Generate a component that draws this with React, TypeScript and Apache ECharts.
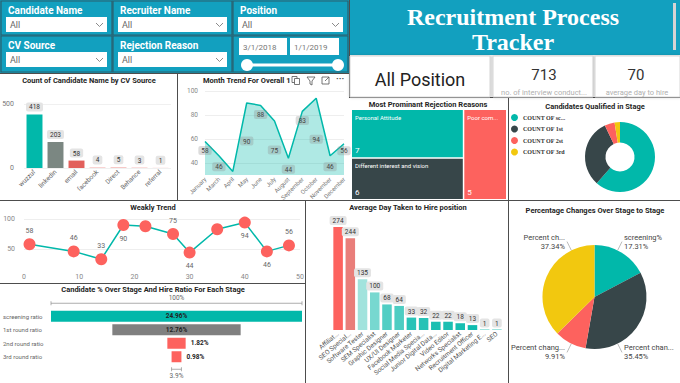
import React, { useEffect, useRef } from 'react';
import * as echarts from 'echarts';

// ---------------- data ----------------
const SLICER_LABELS = ['Candidate Name', 'Recruiter Name', 'Position', 'CV Source', 'Rejection Reason'];
const SLICER_VALUES = ['All', 'All', 'All', 'All', 'All'];
const DATE_RANGE = ['3/1/2018', '1/1/2019'];
const TITLE_LINES = ['Recruitment Process', 'Tracker'];
const POSITION_CARD = 'All Position';
const KPI_VALUES = [713, 70];
const KPI_LABELS = ['no. of interview conduct...', 'average day to hire'];

const CHART_TITLES = [
  'Count of Candidate Name by CV Source',
  'Month Trend For Overall 1',
  'Most Prominant Rejection Reasons',
  'Candidates Qualified in Stage',
  'Weakly Trend',
  'Candidate % Over Stage And Hire Ratio For Each Stage',
  'Average Day Taken to Hire position',
  'Percentage Changes Over Stage to Stage',
];

const CV_SOURCES = ['wuzzuf', 'linkedin', 'email', 'facebook', 'Direct', 'Behance', 'referral'];
const CV_COUNTS = [418, 203, 58, 4, 5, 3, 1];

const MONTHS = ['January', 'March', 'April', 'May', 'June', 'July', 'August', 'September', 'October', 'November', 'December'];
const MONTH_VALUES = [58, 46, 33, 90, 88, 75, 44, 83, 94, 46, 56];

const WEEKS = [1, 9, 14, 18, 22, 27, 30, 35, 40, 44, 48];
const WEEK_VALUES = [58, 46, 33, 90, 88, 75, 44, 83, 94, 46, 56];

const REJECTION_REASONS = ['Personal Attitude', 'Different interest and vision', 'Poor communication'];
const REJECTION_COUNTS = [7, 6, 5];

const STAGES = ['COUNT OF screening', 'COUNT OF 1st', 'COUNT OF 2st', 'COUNT OF 3rd'];
const STAGE_COUNTS = [173, 88, 13, 7];

const RATIO_STAGES = ['screening ratio', '1st round ratio', '2nd round ratio', '3rd round ratio'];
const RATIO_VALUES = [24.96, 12.76, 1.82, 0.98];

const POSITIONS = [
  'Affiliat...', 'SEO Special...', 'Software Tester', 'SEM Specialist', 'Graphic Designer',
  'UX/UI Designer', 'Facebook Marketer', 'Social Media Specia...', 'Junior Digital Data...',
  'Video Editor', 'Networks Specialist', 'Recruitment Officer', 'Digital Marketing E...', 'SEO',
];
const AVG_DAYS = [274, 244, 135, 100, 68, 64, 33, 32, 22, 22, 18, 13, 1, 1];

const CHANGE_NAMES = ['screening%', 'Percent chan...', 'Percent chang...', 'Percent ch...'];
const CHANGE_VALUES = [17.31, 35.45, 9.91, 37.34];

// ---------------- styles / layout ----------------
const FONT = 'Roboto, "Noto Sans", sans-serif';
const TEAL = '#01B8AA';
const DARK = '#374649';
const RED = '#FD625E';
const YELLOW = '#F2C80F';
const HEADER_BG = '#12a0bf';
const SLICER_BORDER = '#2a5f6e';
const CV_COLORS = [TEAL, '#7b8782', '#e2605c', '#f3a9a7', '#f3a9a7', '#f3a9a7', '#f3a9a7'];
const TREEMAP_COLORS = [TEAL, DARK, RED];
const STAGE_COLORS = [TEAL, DARK, RED, YELLOW];
const FUNNEL_COLORS = [TEAL, '#808080', RED, RED];
const CHANGE_COLORS = [TEAL, DARK, RED, YELLOW];

const SLICER_BOXES = [
  [1, 1, 111, 34],
  [113, 1, 119, 34],
  [233, 1, 115, 34],
  [1, 36, 111, 36],
  [113, 36, 119, 36],
];
const DATE_BOX = [233, 36, 115, 36];
const PANELS = [
  [0, 74, 177, 126],
  [178, 74, 171, 126],
  [349, 98, 159, 102],
  [509, 98, 171, 102],
  [0, 201, 305, 82],
  [0, 284, 305, 99],
  [306, 201, 202, 182],
  [509, 201, 171, 182],
];
const TITLE_SPOTS: [number, number, string][] = [
  [89, 80, 'center'],
  [203, 80, 'left'],
  [428, 104, 'center'],
  [595, 106, 'center'],
  [153, 207, 'center'],
  [153, 289, 'center'],
  [408, 207, 'center'],
  [595, 210, 'center'],
];
const MONTH_LABEL_DIST = [4, 6, null, 33, 4, 24, 6, 4, 36, 6, 2];
const WEEK_LABEL_POS = ['top', 'top', 'top', 'bottom', null, 'top', 'bottom', null, 'bottom', 'bottom', 'top'];

const PIE_BOX = { left: 509, top: 201, width: 171, height: 182 };
const PIE_CY_OFFSET = 96;
const PIE_R = 52;
const PIE_LABEL_W = 54;
const PIE_CX = PIE_BOX.left + PIE_BOX.width / 2;
const PIE_CY = PIE_BOX.top + PIE_CY_OFFSET;

const labelBox = {
  fontSize: 6.5,
  color: '#333',
  backgroundColor: '#e4e4e4',
  padding: [1.5, 3, 0.5, 3],
  borderRadius: 2,
};

// Place the outer pie labels clear of the pie, as the source dashboard does.
function pieLabelLayout(params: any) {
  const r = params.labelRect;
  const right = r.x + r.width / 2 > PIE_CX;
  const h = r.height;
  const near = right ? PIE_BOX.left + PIE_BOX.width - 2 - PIE_LABEL_W : PIE_BOX.left + 2 + PIE_LABEL_W;
  const dxEdge = Math.abs(near - PIE_CX);
  const need = PIE_R + 3;
  const dy = dxEdge >= need ? 0 : Math.sqrt(need * need - dxEdge * dxEdge);
  const mid0 = r.y + h / 2;
  const above = mid0 < PIE_CY;
  const mid = above ? Math.min(mid0, PIE_CY - dy - h / 2) : Math.max(mid0, PIE_CY + dy + h / 2);
  const ax = right ? near - 2 : near + 2;
  const vx = ax - PIE_CX;
  const vy = mid - PIE_CY;
  const len = Math.hypot(vx, vy) || 1;
  const ux = vx / len;
  const uy = vy / len;
  return {
    x: near,
    y: mid,
    align: right ? 'left' : 'right',
    verticalAlign: 'middle',
    labelLinePoints: [
      [PIE_CX + PIE_R * ux, PIE_CY + PIE_R * uy],
      [PIE_CX + (PIE_R + 4) * ux, PIE_CY + (PIE_R + 4) * uy],
      [ax, mid],
    ],
  };
}

function buildGraphics(annot: any[]) {
  const els: any[] = [];
  const rect = (x: number, y: number, w: number, h: number, style: any, z = -3) =>
    els.push({ type: 'rect', shape: { x, y, width: w, height: h }, style, z, silent: true });
  const txt = (x: number, y: number, t: string, font: string, fill: string, align = 'left') =>
    els.push({
      type: 'text', x, y, z: -1, silent: true,
      style: { text: t, font, fill, align, verticalAlign: 'middle', textAlign: align, textVerticalAlign: 'middle' },
    });
  const chevron = (x: number, y: number) =>
    els.push({
      type: 'polyline', z: -1, silent: true,
      shape: { points: [[x, y], [x + 3.5, y + 3.5], [x + 7, y]] },
      style: { stroke: '#8a8a8a', lineWidth: 1, fill: 'none' },
    });

  // header areas
  rect(0, 0, 349, 73, { fill: HEADER_BG });
  rect(350, 0, 330, 55, { fill: HEADER_BG });
  rect(350, 55, 330, 42, { fill: '#f3f3f3' });
  PANELS.forEach(([x, y, w, h]) => rect(x, y, w, h, { fill: '#ffffff' }));

  // slicers
  SLICER_LABELS.forEach((label, i) => {
    const [x, y, w, h] = SLICER_BOXES[i];
    rect(x, y, w, h, { fill: HEADER_BG, stroke: SLICER_BORDER, lineWidth: 1.2 }, -2);
    txt(x + 7, y + 9, label, `bold 10px ${FONT}`, '#ffffff');
    rect(x + 5, y + 16, w - 10, 15, { fill: '#ffffff' }, -1);
    txt(x + 9, y + 24, SLICER_VALUES[i], `9px ${FONT}`, '#666666');
    chevron(x + w - 16, y + 22);
  });
  const [dx, dy, dw, dh] = DATE_BOX;
  rect(dx, dy, dw, dh, { fill: HEADER_BG, stroke: SLICER_BORDER, lineWidth: 1.2 }, -2);
  rect(dx + 6, dy + 2, 48, 17, { fill: '#ffffff' }, -1);
  txt(dx + 10, dy + 11, DATE_RANGE[0], `8px ${FONT}`, '#777777');
  rect(dx + 57, dy + 2, 49, 17, { fill: '#ffffff' }, -1);
  txt(dx + 61, dy + 11, DATE_RANGE[1], `8px ${FONT}`, '#777777');
  els.push({ type: 'line', z: -1, silent: true, shape: { x1: dx + 14, y1: dy + 29, x2: dx + 105, y2: dy + 29 }, style: { stroke: '#ffffff', lineWidth: 3 } });
  els.push({ type: 'circle', z: -1, silent: true, shape: { cx: dx + 14, cy: dy + 29, r: 6 }, style: { fill: '#ffffff' } });
  els.push({ type: 'circle', z: -1, silent: true, shape: { cx: dx + 105, cy: dy + 29, r: 6 }, style: { fill: '#ffffff' } });

  // title
  txt(513, 17, TITLE_LINES[0], 'bold 24px "Liberation Serif", "DejaVu Serif", serif', '#ffffff', 'center');
  txt(513, 42, TITLE_LINES[1], 'bold 24px "Liberation Serif", "DejaVu Serif", serif', '#ffffff', 'center');
  rect(673, 3, 3, 47, { fill: '#d4d4d4' }, -2);

  // KPI cards
  const cardStyle = { fill: '#ffffff', stroke: '#d6d6d6', lineWidth: 1, shadowBlur: 3, shadowColor: 'rgba(0,0,0,0.2)' };
  rect(350, 56, 140, 41, cardStyle, -2);
  txt(420, 79, POSITION_CARD, `18px ${FONT}`, '#222222', 'center');
  rect(493, 56, 100, 41, cardStyle, -2);
  txt(544, 75, String(KPI_VALUES[0]), `15px ${FONT}`, '#333333', 'center');
  txt(544, 92, KPI_LABELS[0], `7.5px ${FONT}`, '#b0b0b0', 'center');
  rect(595, 56, 85, 41, cardStyle, -2);
  txt(636, 75, String(KPI_VALUES[1]), `15px ${FONT}`, '#333333', 'center');
  txt(637, 92, KPI_LABELS[1], `7.5px ${FONT}`, '#b0b0b0', 'center');

  // chart titles
  CHART_TITLES.forEach((t, i) => {
    const [x, y, a] = TITLE_SPOTS[i];
    txt(x, y, t, `bold 7.5px ${FONT}`, '#252525', a);
  });

  // month trend header icons
  const iconStroke = { fill: 'none', stroke: '#555555', lineWidth: 0.8 };
  rect(292, 76.5, 5, 6, iconStroke, -1);
  rect(294.5, 78.5, 5, 6, { fill: '#ffffff', stroke: '#555555', lineWidth: 0.8 }, -1);
  els.push({ type: 'polygon', z: -1, silent: true, shape: { points: [[307, 77], [315, 77], [312, 81], [312, 85], [310, 84], [310, 81]] }, style: iconStroke });
  rect(322, 77, 7, 7, iconStroke, -1);
  els.push({ type: 'line', z: -1, silent: true, shape: { x1: 325, y1: 81, x2: 329, y2: 77 }, style: { stroke: '#555555', lineWidth: 0.8 } });
  txt(336, 79, '···', `bold 9px ${FONT}`, '#555555');

  return els.concat(annot);
}

function buildOption(annot: any[]) {
  const maxRatio = Math.max(...RATIO_VALUES);
  const maxDays = Math.max(...AVG_DAYS);
  const t = 'transparent';
  return {
    animation: false,
    backgroundColor: '#4d4d4d',
    textStyle: { fontFamily: FONT },
    graphic: { elements: buildGraphics(annot) },
    grid: [
      { left: 24, top: 104, width: 147, height: 64, outerBoundsMode: 'none' },
      { left: 205, top: 91, width: 139, height: 84, outerBoundsMode: 'none' },
      { left: 24, top: 213, width: 276, height: 54, outerBoundsMode: 'none' },
      { left: 51, top: 309.5, width: 251, height: 54, outerBoundsMode: 'none' },
      { left: 332, top: 227, width: 171, height: 103, outerBoundsMode: 'none' },
    ],
    xAxis: [
      {
        gridIndex: 0, type: 'category', data: CV_SOURCES,
        axisLine: { show: false }, axisTick: { show: false },
        axisLabel: { interval: 0, rotate: 45, fontSize: 6.5, color: '#666', margin: 3 },
      },
      {
        gridIndex: 1, type: 'category', data: MONTHS, boundaryGap: false,
        axisLine: { show: false }, axisTick: { show: false },
        axisLabel: { interval: 0, rotate: 45, fontSize: 6, color: '#777', margin: 3 },
      },
      {
        gridIndex: 2, type: 'value', min: 0, max: 50, interval: 10,
        axisLine: { show: false }, axisTick: { show: false }, splitLine: { show: false },
        axisLabel: { fontSize: 7, color: '#888', margin: 6 },
      },
      { gridIndex: 3, type: 'value', min: 0, max: maxRatio, show: false },
      {
        gridIndex: 4, type: 'category', data: POSITIONS,
        axisLine: { show: false }, axisTick: { show: false },
        axisLabel: { interval: 0, rotate: 40, fontSize: 6.5, color: '#555', margin: 3 },
      },
    ],
    yAxis: [
      {
        gridIndex: 0, type: 'value', min: 0, max: 500, interval: 500,
        axisLine: { show: false }, axisTick: { show: false },
        axisLabel: { fontSize: 7, color: '#777', margin: 10 },
        splitLine: { lineStyle: { color: '#f0f0f0' } },
      },
      {
        gridIndex: 1, type: 'value', min: 30, max: 100, interval: 10,
        axisLine: { show: false }, axisTick: { show: false },
        axisLabel: { fontSize: 6.5, color: '#888', margin: 7, formatter: (v: number) => (v % 20 === 0 ? String(v) : '') },
        splitLine: { lineStyle: { color: [t, '#eeeeee'] } },
      },
      {
        gridIndex: 2, type: 'value', min: 20, max: 110, interval: 10,
        axisLine: { show: false }, axisTick: { show: false },
        axisLabel: { fontSize: 7, color: '#888', margin: 9, formatter: (v: number) => (v % 50 === 0 ? String(v) : '') },
        splitLine: { lineStyle: { color: [t, t, t, '#eeeeee', t] } },
      },
      {
        gridIndex: 3, type: 'category', data: RATIO_STAGES, inverse: true,
        axisLine: { show: false }, axisTick: { show: false },
        axisLabel: { align: 'left', margin: 48, fontSize: 6, color: '#666' },
      },
      { gridIndex: 4, type: 'value', min: 0, max: 'dataMax', show: false },
    ],
    legend: {
      data: STAGES,
      orient: 'vertical',
      left: 511,
      top: 114,
      padding: 0,
      itemGap: 4.5,
      itemWidth: 7,
      itemHeight: 7,
      icon: 'circle',
      selectedMode: false,
      textStyle: { fontSize: 6, fontWeight: 'bold', fontFamily: '"Liberation Serif", serif', color: '#333' },
      formatter: (n: string) => (n.length > 14 ? n.slice(0, 11) + '...' : n),
    },
    visualMap: [
      {
        type: 'continuous', show: false, seriesIndex: 5, min: 0, max: maxDays,
        inRange: { color: [TEAL, '#a3e4de', RED] },
      },
    ],
    series: [
      {
        type: 'bar', xAxisIndex: 0, yAxisIndex: 0, barWidth: '76%', silent: true,
        data: CV_COUNTS.map((v, i) => ({ value: v, itemStyle: { color: CV_COLORS[i] } })),
        label: { show: true, position: 'top', distance: 3, ...labelBox },
      },
      {
        type: 'line', xAxisIndex: 1, yAxisIndex: 1, silent: true,
        symbol: 'circle', symbolSize: 1, itemStyle: { color: t, borderWidth: 0 },
        lineStyle: { color: TEAL, width: 1.5 },
        areaStyle: { color: 'rgba(1,184,170,0.45)', origin: 'start' },
        data: MONTH_VALUES.map((v, i) => ({
          value: v,
          label: MONTH_LABEL_DIST[i] == null ? { show: false } : { distance: MONTH_LABEL_DIST[i] },
        })),
        label: { show: true, position: 'bottom', ...labelBox, color: '#444', backgroundColor: 'rgba(140,140,140,0.3)' },
      },
      {
        type: 'line', xAxisIndex: 2, yAxisIndex: 2, silent: true,
        symbol: 'circle', symbolSize: 12, itemStyle: { color: RED },
        lineStyle: { color: TEAL, width: 1.5 },
        data: WEEKS.map((w, i) => ({
          value: [w, WEEK_VALUES[i]],
          label: WEEK_LABEL_POS[i] ? { position: WEEK_LABEL_POS[i] } : { show: false },
        })),
        label: { show: true, fontSize: 7, color: '#666', distance: 4, formatter: (p: any) => String(p.value[1]) },
      },
      {
        type: 'bar', xAxisIndex: 3, yAxisIndex: 3, stack: 'funnel', barWidth: 11, silent: true,
        itemStyle: { color: t },
        data: RATIO_VALUES.map((v) => (maxRatio - v) / 2),
      },
      {
        type: 'bar', xAxisIndex: 3, yAxisIndex: 3, stack: 'funnel', barWidth: 11, silent: true,
        data: RATIO_VALUES.map((v, i) => ({
          value: v,
          itemStyle: { color: FUNNEL_COLORS[i] },
          label: { position: v / maxRatio > 0.2 ? 'inside' : 'right' },
        })),
        label: { show: true, fontSize: 6.5, fontWeight: 'bold', color: '#222', distance: 5, formatter: (p: any) => `${p.value}%` },
      },
      {
        type: 'bar', xAxisIndex: 4, yAxisIndex: 4, barWidth: '78%', silent: true,
        data: AVG_DAYS,
        label: { show: true, position: 'top', distance: 2, ...labelBox },
      },
      {
        type: 'treemap', left: 352, top: 110, width: 154, height: 89,
        roam: false, nodeClick: false, silent: true, breadcrumb: { show: false },
        levels: [{ itemStyle: { borderWidth: 0, gapWidth: 1.5, borderColor: '#ffffff' } }],
        itemStyle: { borderWidth: 0 },
        label: { show: true, position: 'insideTopLeft', fontSize: 6, color: '#fff', padding: [4, 3], overflow: 'truncate', ellipsis: '...', formatter: '{b}' },
        data: REJECTION_REASONS.map((n, i) => ({ name: n, value: REJECTION_COUNTS[i], itemStyle: { color: TREEMAP_COLORS[i] } })),
      },
      {
        type: 'treemap', left: 352, top: 110, width: 154, height: 89,
        roam: false, nodeClick: false, silent: true, breadcrumb: { show: false },
        levels: [{ itemStyle: { borderWidth: 0, gapWidth: 1.5, borderColor: t } }],
        itemStyle: { borderWidth: 0, color: t },
        label: { show: true, position: 'insideBottomLeft', fontSize: 8, color: '#fff', padding: [3, 3], formatter: '{c}' },
        data: REJECTION_REASONS.map((n, i) => ({ name: n, value: REJECTION_COUNTS[i], itemStyle: { color: t } })),
      },
      {
        type: 'pie', center: [620, 157], radius: [14.5, 35], startAngle: 90, silent: true,
        label: { show: false }, labelLine: { show: false },
        data: STAGES.map((n, i) => ({ name: n, value: STAGE_COUNTS[i], itemStyle: { color: STAGE_COLORS[i] } })),
      },
      {
        type: 'pie', ...PIE_BOX,
        center: ['50%', PIE_CY_OFFSET], radius: PIE_R, startAngle: 90, silent: true,
        data: CHANGE_NAMES.map((n, i) => ({ name: n, value: CHANGE_VALUES[i], itemStyle: { color: CHANGE_COLORS[i] } })),
        label: {
          formatter: (p: any) => `${p.name}\n${p.value}%`,
          fontSize: 7.5, color: '#444', lineHeight: 9,
          width: PIE_LABEL_W, overflow: 'none',
        },
        labelLine: { length: 6, length2: 6, lineStyle: { color: '#aaaaaa', width: 0.8 } },
        labelLayout: pieLabelLayout,
      },
    ],
  };
}

export default function App() {
  const ref = useRef<HTMLDivElement>(null);
  useEffect(() => {
    if (!ref.current) return;
    const chart = echarts.init(ref.current, null, { renderer: 'svg' });
    chart.setOption(buildOption([]));

    // funnel annotations placed through the funnel grid's own scales
    const maxV = Math.max(...RATIO_VALUES);
    const last = RATIO_VALUES.length - 1;
    const lastV = RATIO_VALUES[last];
    const g = { gridIndex: 3 };
    const p0 = chart.convertToPixel(g, [0, 0]) as number[];
    const p1 = chart.convertToPixel(g, [maxV, 0]) as number[];
    const q0 = chart.convertToPixel(g, [(maxV - lastV) / 2, last]) as number[];
    const q1 = chart.convertToPixel(g, [(maxV + lastV) / 2, last]) as number[];
    const lineStyle = { stroke: '#999999', lineWidth: 0.8 };
    const topY = p0[1] - 13;
    const botY = q0[1] + 12.5;
    const annot: any[] = [
      { type: 'line', silent: true, shape: { x1: p0[0], y1: topY, x2: p1[0], y2: topY }, style: lineStyle },
      { type: 'line', silent: true, shape: { x1: p0[0], y1: topY - 2, x2: p0[0], y2: topY + 2 }, style: lineStyle },
      { type: 'line', silent: true, shape: { x1: p1[0], y1: topY - 2, x2: p1[0], y2: topY + 2 }, style: lineStyle },
      {
        type: 'text', silent: true, x: (p0[0] + p1[0]) / 2, y: topY - 5,
        style: { text: `${Math.round((RATIO_VALUES[0] / maxV) * 100)}%`, font: `6.5px ${FONT}`, fill: '#666', align: 'center', verticalAlign: 'middle', textAlign: 'center', textVerticalAlign: 'middle' },
      },
      { type: 'line', silent: true, shape: { x1: q0[0], y1: botY, x2: q1[0], y2: botY }, style: lineStyle },
      { type: 'line', silent: true, shape: { x1: q0[0], y1: botY - 2, x2: q0[0], y2: botY + 2 }, style: lineStyle },
      { type: 'line', silent: true, shape: { x1: q1[0], y1: botY - 2, x2: q1[0], y2: botY + 2 }, style: lineStyle },
      {
        type: 'text', silent: true, x: (q0[0] + q1[0]) / 2, y: botY + 7,
        style: { text: `${((lastV / maxV) * 100).toFixed(1)}%`, font: `6.5px ${FONT}`, fill: '#666', align: 'center', verticalAlign: 'middle', textAlign: 'center', textVerticalAlign: 'middle' },
      },
    ];
    chart.setOption(buildOption(annot), true);
    return () => chart.dispose();
  }, []);
  return <div ref={ref} style={{ position: 'absolute', left: 0, top: 0, width: 680, height: 383 }} />;
}
